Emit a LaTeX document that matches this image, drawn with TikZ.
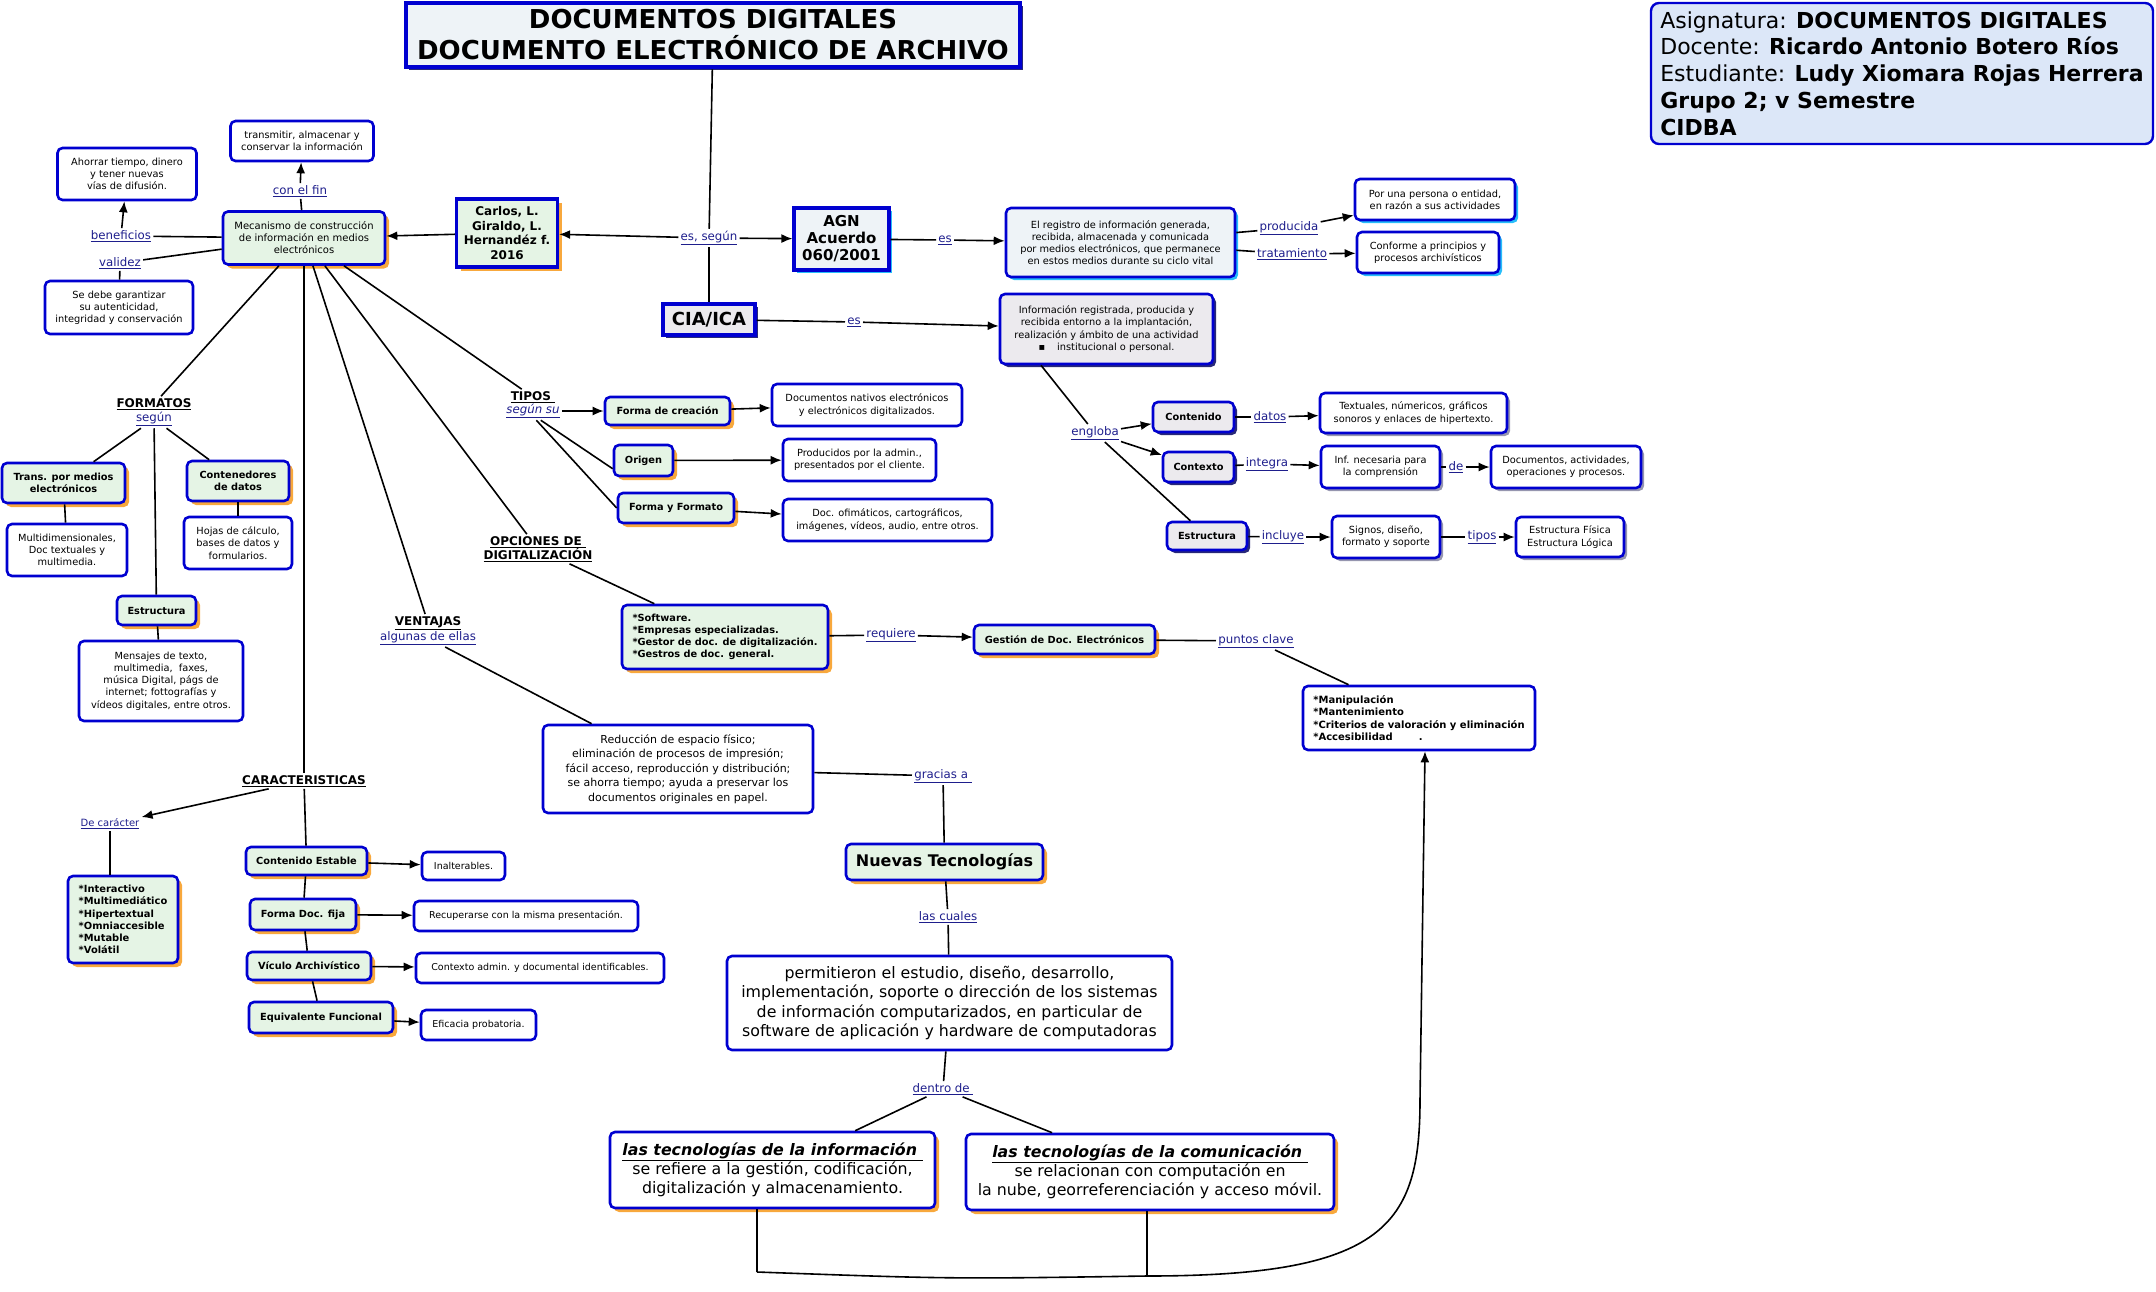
\documentclass[tikz,border=0pt]{standalone}
\usepackage{fontspec}
\setmainfont{DejaVu Sans}
\usetikzlibrary{arrows.meta,shadows}

\definecolor{cmblue}{RGB}{0,0,208}
\definecolor{cmgreen}{RGB}{229,244,229}
\definecolor{cmorange}{RGB}{248,168,60}
\definecolor{cmcyan}{RGB}{40,190,250}
\definecolor{cmnavy}{RGB}{40,40,120}
\definecolor{cmgrey}{RGB}{236,234,238}
\definecolor{cmpale}{RGB}{238,243,247}
\definecolor{cminfo}{RGB}{220,231,248}
\definecolor{cmlink}{RGB}{30,30,140}
\definecolor{cmshade}{RGB}{150,150,175}

\newcommand\cmsize[2]{\fontsize{#1}{#2}\selectfont}

\tikzset{
  sz/.style 2 args={minimum width=#1pt,minimum height=#2pt},
  box/.style={draw=cmblue,line width=2.6pt,rounded corners=5pt,fill=white,align=center,inner sep=2pt,font=\cmsize{9.8}{12.2}},
  oshadow/.style={drop shadow={shadow xshift=4pt,shadow yshift=-4pt,fill=cmorange,opacity=1}},
  cshadow/.style={drop shadow={shadow xshift=3pt,shadow yshift=-3pt,fill=cmcyan,opacity=1}},
  nshadow/.style={drop shadow={shadow xshift=3pt,shadow yshift=-3pt,fill=cmnavy,opacity=1}},
  gshadow/.style={drop shadow={shadow xshift=3pt,shadow yshift=-3pt,fill=cmshade,opacity=1}},
  concept/.style={box,fill=cmgreen,oshadow,font=\bfseries\cmsize{9.8}{12.2}},
  greybox/.style={box,fill=cmgrey,nshadow,font=\bfseries\cmsize{9.8}{12.2}},
  sqbox/.style={box,sharp corners,line width=3.2pt},
  link/.style={text=cmlink,inner sep=1.5pt,font=\cmsize{11.8}{14}},
  head/.style={inner sep=1.5pt,align=center,font=\bfseries\cmsize{12}{14}}
}

\begin{document}
\begin{tikzpicture}[x=1pt,y=-1pt,>={Latex[length=11pt,width=9pt]},line width=1.6pt]
\useasboundingbox (0,0) rectangle (2156,1291);

% title and data
\node[sqbox,fill=cmpale,line width=4.5pt,nshadow,font=\bfseries\cmsize{26}{31},sz={614}{64}] (title) at (713,35) {DOCUMENTOS DIGITALES\\DOCUMENTO ELECTRÓNICO DE ARCHIVO};
\node[box,fill=cminfo,rounded corners=8pt,line width=2.4pt,align=left,font=\cmsize{22}{26.75},sz={502}{141}] (info) at (1902,73.5) {Asignatura: \textbf{DOCUMENTOS DIGITALES}\\Docente: \textbf{Ricardo Antonio Botero Ríos}\\Estudiante: \textbf{Ludy Xiomara Rojas Herrera}\\\textbf{Grupo 2; v Semestre}\\\textbf{CIDBA}};

% mecanismo
\node[concept,font=\cmsize{10}{12},sz={162}{53}] (mec) at (304,238) {Mecanismo de construcción\\de información en medios\\electrónicos};
\node[sqbox,fill=cmgreen,oshadow,font=\bfseries\cmsize{12}{14.6},sz={101}{68}] (carlos) at (507,233) {Carlos, L.\\Giraldo, L.\\Hernandéz f.\\2016};
\node[box,sz={143}{40}] (transm) at (302,141) {transmitir, almacenar y\\conservar la información};
\node[box,sz={139}{52}] (ahorro) at (127,174) {Ahorrar tiempo, dinero\\y tener nuevas\\vías de difusión.};
\node[box,sz={148}{53}] (garant) at (119,307.5) {Se debe garantizar\\su autenticidad,\\integridad y conservación};
\node[link] (confin) at (300,191) {\underline{con el fin}};
\node[link] (benef) at (121,236) {\underline{beneficios}};
\node[link] (valid) at (120,263) {\underline{validez}};

% definiciones
\node[link] (esseg) at (709,238) {\underline{es, según}};
\node[sqbox,fill=cmpale,cshadow,font=\bfseries\cmsize{15}{17},sz={95}{62}] (agn) at (841.5,239) {AGN\\Acuerdo\\060/2001};
\node[sqbox,fill=cmgrey,nshadow,font=\bfseries\cmsize{18}{20},sz={92}{31}] (cia) at (709,319.5) {CIA/ICA};
\node[link] (es1) at (945,240) {\underline{es}};
\node[link] (es2) at (854,322) {\underline{es}};
\node[box,fill=cmpale,cshadow,sz={229}{69}] (regis) at (1120.5,242.5) {El registro de información generada,\\recibida, almacenada y comunicada\\por medios electrónicos, que permanece\\en estos medios durante su ciclo vital};
\node[box,fill=cmgrey,nshadow,sz={213}{70}] (infreg) at (1106.5,329) {Información registrada, producida y\\recibida entorno a la implantación,\\realización y ámbito de una actividad\\▪\hspace{12pt}institucional o personal.};
\node[link] (produ) at (1289,228) {\underline{producida}};
\node[link] (trata) at (1292,254) {\underline{tratamiento}};
\node[box,cshadow,sz={160}{41}] (persona) at (1435,199.5) {Por una persona o entidad,\\en razón a sus actividades};
\node[box,cshadow,sz={142}{41}] (conforme) at (1428,252.5) {Conforme a principios y\\procesos archivísticos};

% engloba
\node[link] (englo) at (1095,433) {\underline{engloba}};
\node[greybox,sz={81}{30}] (conten) at (1193.5,417) {Contenido};
\node[greybox,sz={71}{30}] (contex) at (1198.5,467) {Contexto};
\node[greybox,sz={80}{28}] (estrd) at (1207,536) {Estructura};
\node[link] (datos) at (1270,417) {\underline{datos}};
\node[link] (integ) at (1267,464) {\underline{integra}};
\node[link] (de) at (1456,467) {\underline{de}};
\node[link] (incl) at (1283,537) {\underline{incluye}};
\node[link] (tipos) at (1482,537) {\underline{tipos}};
\node[box,gshadow,sz={187}{40}] (textu) at (1413.5,413) {Textuales, númericos, gráficos\\sonoros y enlaces de hipertexto.};
\node[box,gshadow,sz={119}{42}] (infnec) at (1380.5,467) {Inf. necesaria para\\la comprensión};
\node[box,gshadow,sz={150}{42}] (docact) at (1566,467) {Documentos, actividades,\\operaciones y procesos.};
\node[box,gshadow,sz={108}{42}] (signos) at (1386,537) {Signos, diseño,\\formato y soporte};
\node[box,gshadow,sz={108}{40}] (estfis) at (1570,537) {Estructura Física\\Estructura Lógica};

% formatos
\node[head] (formatos) at (154,404) {\underline{FORMATOS}};
\node[link] (fseg) at (154,419) {\underline{según}};
\node[concept,sz={123}{40}] (trans) at (63.5,483) {Trans. por medios\\electrónicos};
\node[box,sz={120}{52}] (multi) at (67,550) {Multidimensionales,\\Doc textuales y\\multimedia.};
\node[concept,sz={102}{40}] (conted) at (238,481) {Contenedores\\de datos};
\node[box,sz={108}{52}] (hojas) at (238,543) {Hojas de cálculo,\\bases de datos y\\formularios.};
\node[concept,sz={79}{29}] (estri) at (156.5,610.5) {Estructura};
\node[box,sz={164}{80}] (mensa) at (161,681) {Mensajes de texto,\\multimedia,\ \ faxes,\\música Digital, págs de\\internet; fottografías y\\vídeos digitales, entre otros.};

% tipos
\node[head] (tiposh) at (533,397) {\underline{TIPOS\ }};
\node[link,font=\itshape\cmsize{11.8}{14}] (tseg) at (533,411) {\underline{según su}};
\node[concept,sz={125}{28}] (fcrea) at (667.5,411) {Forma de creación};
\node[concept,sz={59}{31}] (origen) at (643.5,460.5) {Origen};
\node[concept,sz={116}{30}] (ffor) at (676,508) {Forma y Formato};
\node[box,sz={190}{42}] (nativ) at (867,405) {Documentos nativos electrónicos\\y electrónicos digitalizados.};
\node[box,sz={153}{42}] (produc) at (859.5,460) {Producidos por la admin.,\\presentados por el cliente.};
\node[box,sz={209}{42}] (ofima) at (887.5,520) {Doc. ofimáticos, cartográficos,\\imágenes, vídeos, audio, entre otros.};

% opciones de digitalizacion
\node[head] (opcio) at (538,549) {\underline{OPCIONES DE\ }\\\underline{DIGITALIZACIÓN}};
\node[concept,align=left,sz={206}{64}] (softw) at (725,637) {*Software.\\*Empresas especializadas.\\*Gestor de doc. de digitalización.\\*Gestros de doc. general.};
\node[link] (requi) at (891,635) {\underline{requiere}};
\node[concept,sz={181}{29}] (gesti) at (1064.5,639.5) {Gestión de Doc. Electrónicos};
\node[link] (punto) at (1256,641) {\underline{puntos clave}};
\node[box,align=left,font=\bfseries\cmsize{10}{12.4},sz={232}{64}] (manip) at (1419,718) {*Manipulación\\*Mantenimiento\\*Criterios de valoración y eliminación\\*Accesibilidad\hspace{26pt}.};

% ventajas
\node[head] (venta) at (428,623) {\underline{VENTAJAS}};
\node[link] (vseg) at (428,638) {\underline{algunas de ellas}};
\node[box,font=\cmsize{11}{14.5},sz={270}{88}] (reduc) at (678,769) {Reducción de espacio físico;\\eliminación de procesos de impresión;\\fácil acceso, reproducción y distribución;\\se ahorra tiempo; ayuda a preservar los\\documentos originales en papel.};
\node[link] (graci) at (943,776) {\underline{gracias a\ }};
\node[concept,font=\bfseries\cmsize{16}{19},sz={197}{36}] (nuevas) at (944.5,862) {Nuevas Tecnologías};
\node[link] (cuale) at (948,917) {\underline{las cuales}};
\node[box,font=\cmsize{15.8}{19.3},sz={445}{94}] (permi) at (949.5,1003) {permitieron el estudio, diseño, desarrollo,\\implementación, soporte o dirección de los sistemas\\de información computarizados, en particular de\\software de aplicación y hardware de computadoras};
\node[link] (dentr) at (943,1089) {\underline{dentro de\ }};
\node[box,oshadow,font=\cmsize{15.8}{19.3},sz={325}{76}] (tinfo) at (772.5,1170) {\underline{\textbf{\textit{las tecnologías de la información\ }}}\\se refiere a la gestión, codificación,\\digitalización y almacenamiento.};
\node[box,oshadow,font=\cmsize{15.8}{19.3},sz={368}{76}] (tcomu) at (1150,1172) {\underline{\textbf{\textit{las tecnologías de la comunicación\ }}}\\se relacionan con computación en\\la nube, georreferenciación y acceso móvil.};
\coordinate (cti) at (757,1272);
\coordinate (ctc) at (1147,1276);

% caracteristicas
\node[head] (carac) at (304,781) {\underline{CARACTERISTICAS}};
\node[link,font=\cmsize{10}{12}] (decar) at (110,824) {\underline{De carácter}};
\node[concept,align=left,font=\bfseries\cmsize{9.9}{12.2},sz={110}{87}] (cualid) at (123,919.5) {*Interactivo\\*Multimediático\\*Hipertextual\\*Omniaccesible\\*Mutable\\*Volátil};
\node[concept,sz={121}{28}] (estab) at (306.5,861) {Contenido Estable};
\node[concept,sz={106}{31}] (fija) at (303,914.5) {Forma Doc. fija};
\node[concept,sz={124}{28}] (vincu) at (309,966) {Vículo Archivístico};
\node[concept,sz={144}{31}] (equiv) at (321,1017.5) {Equivalente Funcional};
\node[box,font=\cmsize{9.5}{12},sz={83}{28}] (inalt) at (463.5,866) {Inalterables.};
\node[box,font=\cmsize{9.5}{12},sz={224}{30}] (recup) at (526,916) {Recuperarse con la misma presentación.};
\node[box,font=\cmsize{9.5}{12},sz={248}{30}] (ctxad) at (540,968) {Contexto admin. y documental identificables.};
\node[box,font=\cmsize{9.5}{12},sz={115}{30}] (efica) at (478.5,1025) {Eficacia probatoria.};

% connectors
\draw (title) -- (esseg);
\draw (esseg) -- (cia);
\draw[->] (esseg) -- (carlos);
\draw[->] (esseg) -- (agn);
\draw[->] (carlos) -- (mec);
\draw (mec) -- (confin); \draw[->] (confin) -- (transm);
\draw (mec) -- (benef); \draw[->] (benef) -- (ahorro);
\draw (mec) -- (valid); \draw (valid) -- (garant);
\draw (mec) -- (formatos);
\draw (fseg) -- (trans); \draw (fseg) -- (conted); \draw (fseg) -- (estri);
\draw (trans) -- (multi); \draw (conted) -- (hojas); \draw (estri) -- (mensa);
\draw (mec) -- (tiposh);
\draw[->] (tseg) -- (fcrea);
\draw (tseg.-50) -- (origen.195);
\draw (tseg.-70) -- (ffor.west);
\draw[->] (fcrea) -- (nativ); \draw[->] (origen) -- (produc); \draw[->] (ffor) -- (ofima);
\draw (mec) -- (opcio);
\draw (opcio) -- (softw);
\draw (softw) -- (requi); \draw[->] (requi) -- (gesti);
\draw (gesti) -- (punto); \draw (punto) -- (manip);
\draw (mec) -- (venta);
\draw (vseg) -- (reduc);
\draw (reduc) -- (graci); \draw (graci) -- (nuevas);
\draw (nuevas) -- (cuale); \draw (cuale) -- (permi);
\draw (permi) -- (dentr);
\draw (dentr) -- (tinfo); \draw (dentr) -- (tcomu);
\draw (cti |- tinfo.south) -- (cti);
\draw (ctc |- tcomu.south) -- (ctc);
\draw[->] (cti) .. controls (950,1279) .. (ctc) .. controls (1385,1276) and (1420,1225) .. (1420,1100) -- ([xshift=6pt]manip.south);
\draw (mec) -- (carac);
\draw[->] (carac) -- (decar);
\draw (decar) -- (decar |- cualid.north);
\draw (carac) -- (estab);
\draw[->] (estab) -- (inalt); \draw (estab) -- (fija);
\draw[->] (fija) -- (recup); \draw (fija) -- (vincu);
\draw[->] (vincu) -- (ctxad); \draw (vincu) -- (equiv);
\draw[->] (equiv) -- (efica);
\draw (agn) -- (es1); \draw[->] (es1) -- (regis);
\draw (cia) -- (es2); \draw[->] (es2) -- (infreg);
\draw (regis) -- (produ); \draw[->] (produ) -- (persona);
\draw (regis) -- (trata); \draw[->] (trata) -- (conforme);
\draw (infreg.209) -- (englo);
\draw[->] (englo) -- (conten); \draw[->] (englo) -- (contex);
\draw (englo) -- (estrd);
\draw (conten) -- (datos); \draw[->] (datos) -- (textu);
\draw (contex) -- (integ); \draw[->] (integ) -- (infnec);
\draw (infnec) -- (de); \draw[->] (de) -- (docact);
\draw (estrd) -- (incl); \draw[->] (incl) -- (signos);
\draw (signos) -- (tipos); \draw[->] (tipos) -- (estfis);
\end{tikzpicture}
\end{document}
